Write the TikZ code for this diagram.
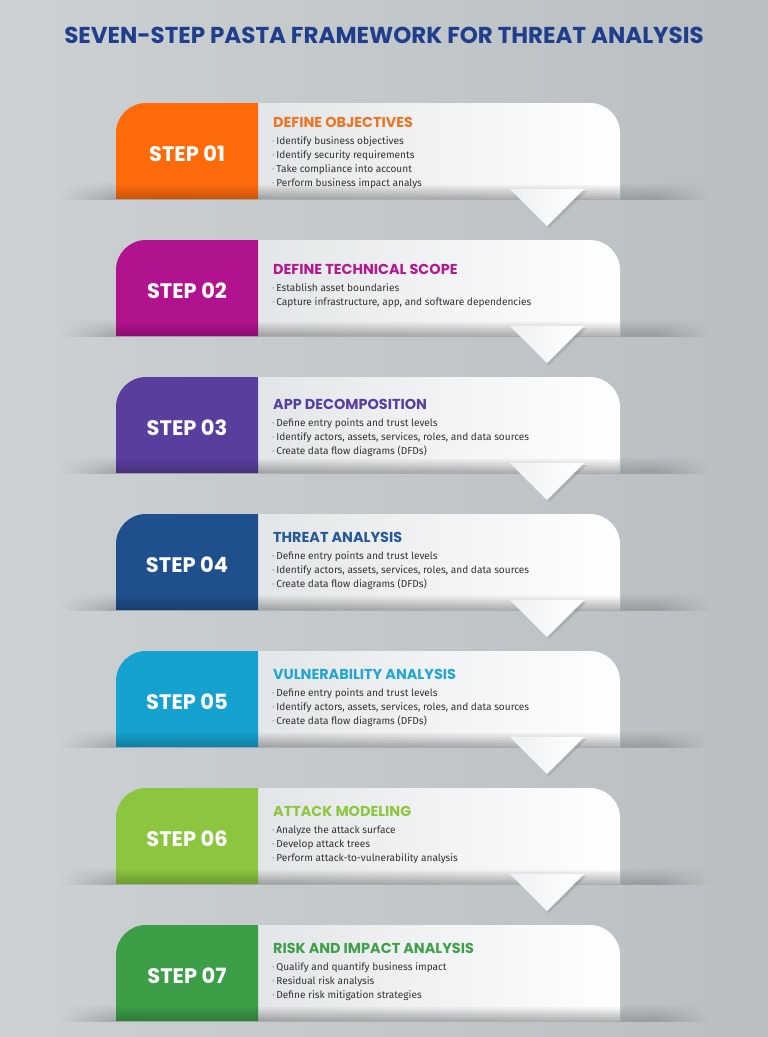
\documentclass[tikz,border=0pt]{standalone}
\usepackage{fontspec}
\setmainfont{Fira Sans}
\newfontfamily\popfont{Poppins}
\definecolor{bgA}{HTML}{CDD1D4}
\definecolor{bgB}{HTML}{B8BEC1}
\definecolor{titleblue}{HTML}{1F3F8C}
\definecolor{bulcol}{HTML}{333333}
\definecolor{dotcol}{HTML}{8A8A8A}
\definecolor{cardL}{HTML}{E3E6E8}
\definecolor{cA}{HTML}{FF6B0B}\definecolor{hA}{HTML}{EF7422}
\definecolor{cB}{HTML}{B0138D}\definecolor{hB}{HTML}{B2198E}
\definecolor{cC}{HTML}{5A3E9E}\definecolor{hC}{HTML}{5A3EA0}
\definecolor{cD}{HTML}{1F4F8D}\definecolor{hD}{HTML}{265A96}
\definecolor{cE}{HTML}{16A2CF}\definecolor{hE}{HTML}{23A6D1}
\definecolor{cF}{HTML}{8CC63F}\definecolor{hF}{HTML}{8DC63F}
\definecolor{cG}{HTML}{3C9E47}\definecolor{hG}{HTML}{40A04A}
\colorlet{shL}{bgA!92!bgB}
\colorlet{shR}{bgA!8!bgB}
\colorlet{shmA}{bgA!85!bgB}
\colorlet{shmB}{bgA!15!bgB}
\colorlet{sMA}{shmA}
\colorlet{sMB}{shmB}
% TikZ maps 25bp..75bp of a shading onto the path
\pgfdeclarehorizontalshading[shL,sMA,sMB,shR]{shelfs}{100bp}{color(0bp)=(shL); color(25bp)=(shL); color(29bp)=(sMA); color(71bp)=(sMB); color(75bp)=(shR); color(100bp)=(shR)}
\tikzset{
  steplabel/.style={text=white, font=\popfont\fontsize{21}{21}\selectfont\bfseries, anchor=base, inner sep=0pt},
  headtext/.style={font=\popfont\fontsize{14.4}{14.4}\selectfont\bfseries, anchor=base west, inner sep=0pt},
  bultext/.style={text=bulcol, font=\fontsize{10.1}{10.1}\selectfont, anchor=base west, inner sep=0pt},
  titletext/.style={text=titleblue, font=\popfont\fontsize{23}{23}\selectfont\bfseries, anchor=base, inner sep=0pt},
  cardfill/.style={left color=cardL, right color=white},
  pointer/.style={left color=cardL!60, right color=white},
}
% #1 index, #2 block colour, #3 heading colour, #4 label, #5 heading offset, #6 heading, #7 bullets, #8 arrow (1/0)
\newcommand\pastastep[8]{%
  \pgfmathsetmacro\yt{103+137*#1}%
  \pgfmathsetmacro\yb{\yt+96}%
  % shelf shadow
  \foreach \k in {0,...,7}{%
    \pgfmathsetmacro\dk{2.2*(\k+1)}%
    \colorlet{sMA}{black!\dk!shmA}%
    \colorlet{sMB}{black!\dk!shmB}%
    \shade[shading=shelfs] (60,\yb-16+2*\k) rectangle (710,\yb-13.6+2*\k);
  }%
  % white card
  \shade[cardfill] (258,\yb) -- (258,\yt) -- (590,\yt) arc[start angle=270, end angle=360, radius=30] -- (620,\yb) -- cycle;
  % colour block
  \fill[#2] (258,\yb) -- (116,\yb) -- (116,\yt+30) arc[start angle=180, end angle=270, radius=30] -- (258,\yt) -- cycle;
  % bottom shadows
  \foreach \k in {0,...,6}{%
    \pgfmathsetmacro\ok{0.04*(\k+1)}%
    \fill[black, fill opacity=\ok] (258,\yb-14+2*\k) rectangle (620,\yb-12+2*\k);
    \fill[black, fill opacity=\ok*0.7] (116,\yb-14+2*\k) rectangle (258,\yb-12+2*\k);
  }%
  \ifnum#8=1
    \fill[black, fill opacity=0.10] (512,\yb-8) -- (587,\yb-8) -- (549,\yb+29) -- cycle;
    \shade[pointer] (510,\yb-10) -- (584,\yb-10) -- (547,\yb+27) -- cycle;
  \fi
  \node[steplabel] (lab#1) at (187,\yt+58) {#4};
  \node[headtext, text=#3] (head#1) at (273,\yt+#5+5) {#6};
  \foreach \t [count=\j] in {#7}{%
    \node[bultext] (bul#1-\j) at (272,\yt+#5+19+14*\j-14+3.5) {{\color{dotcol}·}\,\t};
  }%
}
\begin{document}
\begin{tikzpicture}[x=1pt, y=-1pt]
  \shade[left color=bgA, right color=bgB] (0,0) rectangle (768,1037);
  \useasboundingbox (0,0) rectangle (768,1037);
  \node[titletext] (title) at (384,43) {SEVEN-STEP PASTA FRAMEWORK FOR THREAT ANALYSIS};
  \pastastep{0}{cA}{hA}{STEP 01}{19}{DEFINE OBJECTIVES}{{Identify business objectives},{Identify security requirements},{Take compliance into account},{Perform business impact analys}}{1}
  \pastastep{1}{cB}{hB}{STEP 02}{29}{DEFINE TECHNICAL SCOPE}{{Establish asset boundaries},{Capture infrastructure, app, and software dependencies}}{1}
  \pastastep{2}{cC}{hC}{STEP 03}{27}{APP DECOMPOSITION}{{Define entry points and trust levels},{Identify actors, assets, services, roles, and data sources},{Create data flow diagrams (DFDs)}}{1}
  \pastastep{3}{cD}{hD}{STEP 04}{23}{THREAT ANALYSIS}{{Define entry points and trust levels},{Identify actors, assets, services, roles, and data sources},{Create data flow diagrams (DFDs)}}{1}
  \pastastep{4}{cE}{hE}{STEP 05}{23}{VULNERABILITY ANALYSIS}{{Define entry points and trust levels},{Identify actors, assets, services, roles, and data sources},{Create data flow diagrams (DFDs)}}{1}
  \pastastep{5}{cF}{hF}{STEP 06}{23}{ATTACK MODELING}{{Analyze the attack surface},{Develop attack trees},{Perform attack-to-vulnerability analysis}}{1}
  \pastastep{6}{cG}{hG}{STEP 07}{23}{RISK AND IMPACT ANALYSIS}{{Qualify and quantify business impact},{Residual risk analysis},{Define risk mitigation strategies}}{0}
\end{tikzpicture}
\end{document}
